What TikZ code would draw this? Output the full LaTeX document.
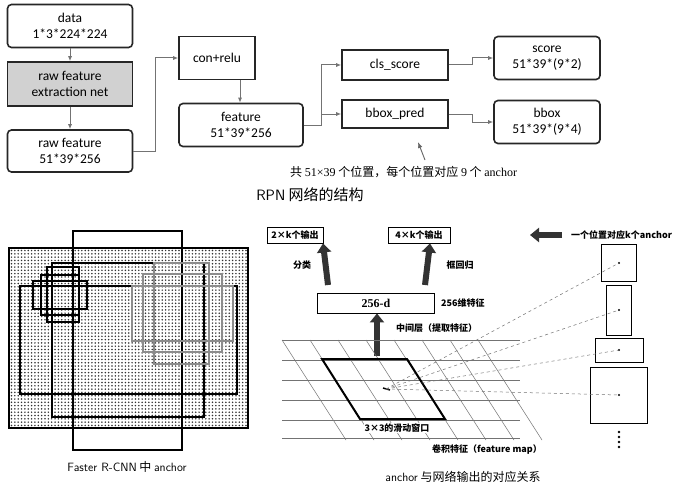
\documentclass[tikz,border=0pt]{standalone}
\usepackage{fontspec}
\setmainfont{Carlito}
\newfontfamily\cjk{Noto Sans CJK SC}
\newfontfamily\serif{Liberation Serif}
\usetikzlibrary{arrows.meta}
\begin{document}
\begin{tikzpicture}[x=1pt,y=-1pt,
 rbox/.style={draw=black!85,line width=1.6pt,rounded corners=4pt,align=center,font=\fontsize{13.5}{16}\selectfont,inner sep=0pt},
 conn/.style={draw=black!55,line width=1pt,-{Latex[length=5pt,width=4pt]}},
 fat/.style={line width=6pt,draw=black!80,-{Triangle[length=9pt,width=14pt]}},
 cbox/.style={draw,line width=0.9pt,inner sep=0pt,font=\cjk\fontsize{9}{10}\selectfont\bfseries},
 lab/.style={font=\cjk\fontsize{9}{10}\selectfont\bfseries,inner sep=1pt},
 arect/.style={draw,line width=1.3pt},
 grect/.style={draw=black!45,line width=1.3pt},
 abox/.style={draw,line width=0.7pt}]
\useasboundingbox (0,0) rectangle (676,484);
\fill[white] (0,0) rectangle (676,484);
% ===== top RPN
\node[rbox,minimum width=125pt,minimum height=43pt] (data) at (70,26) {data\\1*3*224*224};
\node[rbox,rounded corners=0pt,fill=black!18,minimum width=125pt,minimum height=44pt] (ext) at (70,84) {raw feature\\extraction net};
\node[rbox,minimum width=125pt,minimum height=42pt] (raw) at (70,151) {raw feature\\51*39*256};
\node[rbox,rounded corners=0pt,minimum width=76pt,minimum height=43pt] (con) at (217,58) {con+relu};
\node[rbox,minimum width=124pt,minimum height=43pt] (feat) at (241,125) {feature\\51*39*256};
\node[rbox,rounded corners=0pt,minimum width=106pt,minimum height=30pt] (cls) at (395,65) {cls\_score};
\node[rbox,rounded corners=0pt,minimum width=106pt,minimum height=28pt] (bbp) at (395,114) {bbox\_pred};
\node[rbox,minimum width=106pt,minimum height=43pt] (score) at (547,58) {score\\51*39*(9*2)};
\node[rbox,minimum width=106pt,minimum height=43pt] (bbox) at (547,122) {bbox\\51*39*(9*4)};
\draw[conn] (data) -- (ext);
\draw[conn] (ext) -- (raw);
\draw[conn] (raw.east) -- ++(22,0) |- (con.west);
\draw[conn] (con.south -| 240,0) -- (feat.north -| 240,0);
\draw[conn] (feat.east) -- ++(18,0) |- (cls.west);
\draw[conn] (feat.east) ++(18,0) |- (bbp.west);
\draw[conn] (cls.east) -- ++(24,0) |- (score.west);
\draw[conn] (bbp.east) -- ++(24,0) |- (bbox.west);
\node[font=\cjk\fontsize{12}{14}\selectfont,anchor=west,inner sep=0pt] (note) at (290,172) {共 {\serif 51×39} 个位置，每个位置对应 {\serif 9} 个 {\serif anchor}};
\coordinate (nt) at (425,160);
\draw[black!60,line width=0.9pt,-{Latex[length=6pt]}] (nt) -- (418,142);
\node[font=\cjk\fontsize{15}{17}\selectfont] (t1) at (310,195) {{\sffamily RPN} 网络的结构};
% ===== bottom left anchors
\foreach \i in {0,...,70}{\foreach \j in {0,...,53}{
  \fill[black!80] (11.5+\i*3.35,250.5+\j*3.3) circle (0.85pt);}}
\draw[line width=1.8pt] (9,248) rectangle (248,428);
\draw[arect] (73,231) rectangle (182,450);
\draw[arect] (52,263) rectangle (204,417);
\draw[arect] (20,286) rectangle (237,394);
\draw[arect] (47,267) rectangle (79,322);
\draw[arect] (41,275) rectangle (79,315);
\draw[arect] (33,281) rectangle (87,309);
\draw[grect] (154,263) rectangle (209,364);
\draw[grect] (143,274) rectangle (222,352);
\draw[grect] (132,286) rectangle (233,341);
\node[font=\cjk\fontsize{12}{14}\selectfont] (c1) at (127,467) {{\sffamily Faster R-CNN} 中 {\sffamily anchor}};
% ===== bottom right
\node[cbox,minimum width=56pt,minimum height=16pt] (o2) at (295,235) {2×{\itshape k}个输出};
\node[cbox,minimum width=62pt,minimum height=16pt] (o4) at (419,235) {4×{\itshape k}个输出};
\node[lab,anchor=west] (tk) at (570,235) {一个位置对应{\itshape k}个anchor};
\draw[fat] (tk.west) ++(-8,0) coordinate (ka) -- (530,235);
\node[draw,line width=0.9pt,minimum width=117pt,minimum height=20pt,inner sep=0pt,font=\serif\bfseries\fontsize{12}{14}\selectfont] (d256) at (376,303) {256-d};
\node[lab,anchor=west] (l256) at (440,303) {256维特征};
\draw[fat] (328,285) -- (o2.south -| 323,0);
\draw[fat] (425,285) -- (o4.south -| 430,0);
\node[lab] (fl) at (302,265) {分类};
\node[lab] (hg) at (460,265) {框回归};
\node[lab,anchor=west] (mid) at (395,328) {中间层（提取特征）};
\coordinate (gc) at (386,389);
\draw[fat] (377,356) -- (d256.south -| 377,0);
% grid
\foreach \y in {340,360,380,400,420,438} \draw[black!55,line width=0.5pt] (282,\y) -- (520,\y);
\foreach \k in {0,...,7} \draw[black!55,line width=0.5pt] (282+28*\k,340) -- (346+28*\k,440);
\draw[line width=2pt] (322,359) -- (407,359) -- (445,419) -- (360,419) -- cycle;
\draw[line width=1.5pt] (383,388) -- (390,390);
\node[lab,fill=white] (sw) at (397,428) {3×3的滑动窗口};
\node[lab] (fm) at (487,450) {卷积特征（feature map）};
\node[font=\cjk\fontsize{12}{14}\selectfont] (c2) at (463,477) {{\sffamily anchor} 与网络输出的对应关系};
% anchor boxes
\node[abox,minimum width=35pt,minimum height=37pt] (a1) at (619,263) {};
\node[abox,minimum width=25pt,minimum height=50pt] (a2) at (619,310) {};
\node[abox,minimum width=48pt,minimum height=24pt] (a3) at (619,350) {};
\node[abox,minimum width=57pt,minimum height=56pt] (a4) at (619,395) {};
\foreach \a in {a1,a2,a3,a4}{\fill (\a.center) circle (1.2pt);
  \draw[black!55,dashed,line width=0.5pt] (gc) -- (\a.center);}
\foreach \y in {432,437,442,447} \fill (619,\y) circle (1.3pt);
\end{tikzpicture}
\end{document}
